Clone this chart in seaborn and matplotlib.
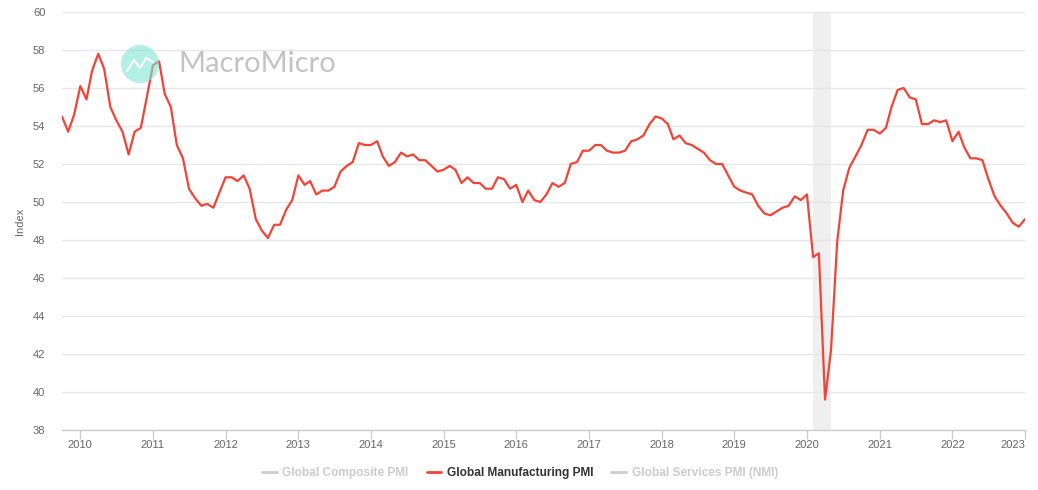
import matplotlib
matplotlib.use('Agg')
import matplotlib.pyplot as plt
import pandas as pd
import seaborn as sns
from matplotlib.lines import Line2D
from matplotlib.patches import Ellipse

# ---------------- data ----------------
start_month = '2009-10-01'
pmi_2009 = [54.5, 53.7, 54.6]
pmi_2010 = [56.1, 55.4, 56.9, 57.8, 57.0, 55.0, 54.3, 53.7, 52.5, 53.7, 53.9, 55.5]
pmi_2011 = [57.2, 57.4, 55.7, 55.0, 53.0, 52.3, 50.7, 50.2, 49.8, 49.9, 49.7, 50.5]
pmi_2012 = [51.3, 51.3, 51.1, 51.4, 50.7, 49.1, 48.5, 48.1, 48.8, 48.8, 49.6, 50.1]
pmi_2013 = [51.4, 50.9, 51.1, 50.4, 50.6, 50.6, 50.8, 51.6, 51.9, 52.1, 53.1, 53.0]
pmi_2014 = [53.0, 53.2, 52.4, 51.9, 52.1, 52.6, 52.4, 52.5, 52.2, 52.2, 51.9, 51.6]
pmi_2015 = [51.7, 51.9, 51.7, 51.0, 51.3, 51.0, 51.0, 50.7, 50.7, 51.3, 51.2, 50.7]
pmi_2016 = [50.9, 50.0, 50.6, 50.1, 50.0, 50.4, 51.0, 50.8, 51.0, 52.0, 52.1, 52.7]
pmi_2017 = [52.7, 53.0, 53.0, 52.7, 52.6, 52.6, 52.7, 53.2, 53.3, 53.5, 54.1, 54.5]
pmi_2018 = [54.4, 54.1, 53.3, 53.5, 53.1, 53.0, 52.8, 52.6, 52.2, 52.0, 52.0, 51.4]
pmi_2019 = [50.8, 50.6, 50.5, 50.4, 49.8, 49.4, 49.3, 49.5, 49.7, 49.8, 50.3, 50.1]
pmi_2020 = [50.4, 47.1, 47.3, 39.6, 42.2, 47.9, 50.6, 51.8, 52.4, 53.0, 53.8, 53.8]
pmi_2021 = [53.6, 53.9, 55.0, 55.9, 56.0, 55.5, 55.4, 54.1, 54.1, 54.3, 54.2, 54.3]
pmi_2022 = [53.2, 53.7, 52.9, 52.3, 52.3, 52.2, 51.2, 50.3, 49.8, 49.4, 48.9, 48.7]
pmi_2023 = [49.1]

year_ticks = list(range(2010, 2024))
y_ticks = list(range(38, 61, 2))
band_start, band_end = '2020-02-01', '2020-04-30'
series_names = ['Global Composite PMI', 'Global Manufacturing PMI', 'Global Services PMI (NMI)']
series_visible = [False, True, False]

pmi_values = (pmi_2009 + pmi_2010 + pmi_2011 + pmi_2012 + pmi_2013 + pmi_2014 + pmi_2015
              + pmi_2016 + pmi_2017 + pmi_2018 + pmi_2019 + pmi_2020 + pmi_2021
              + pmi_2022 + pmi_2023)
dates = pd.date_range(start_month, periods=len(pmi_values), freq='MS')
df = pd.DataFrame({'date': dates, 'pmi': pmi_values})

# ---------------- style ----------------
sns.set_theme(style='white')
plt.rcParams['font.family'] = ['Liberation Sans', 'DejaVu Sans']

W, H = 1038, 490
fig = plt.figure(figsize=(W / 100, H / 100), dpi=100)
L, R, T, B = 62, 1025, 12, 430
ax = fig.add_axes([L / W, 1 - B / H, (R - L) / W, (B - T) / H])

ax.axvspan(pd.Timestamp(band_start), pd.Timestamp(band_end), color='#efefef', lw=0, zorder=0)
sns.lineplot(data=df, x='date', y='pmi', ax=ax, color='#f44336', lw=1.6, zorder=3)

ax.set_ylim(38, 60)
ax.set_yticks(y_ticks)
ax.set_xlim(dates[0], dates[-1])
xt = [pd.Timestamp(f'{y}-01-01') for y in year_ticks]
ax.set_xticks(xt)
ax.set_xticklabels([str(y) for y in year_ticks])
ax.grid(axis='y', color='#e6e6e6', lw=1, zorder=1)
ax.grid(axis='x', visible=False)
ax.set_axisbelow(True)
for s in ['top', 'right', 'left']:
    ax.spines[s].set_visible(False)
ax.spines['bottom'].set_color('#cccccc')
ax.spines['bottom'].set_linewidth(1)
ax.tick_params(axis='x', direction='out', length=6.5, width=1, color='#cccccc',
               labelcolor='#666666', labelsize=8, pad=1, bottom=True)
ax.tick_params(axis='y', length=0, labelcolor='#666666', labelsize=8, pad=12)
ax.get_xticklabels()[-1].set_horizontalalignment('right')
ax.set_xlabel('')
ax.set_ylabel('')
fig.text(20 / W, 1 - 221 / H, 'Index', rotation=90, ha='center', va='center',
         fontsize=8, color='#666666')

# legend
handles = [Line2D([0], [0], color=('#f44336' if v else '#cccccc'), lw=2) for v in series_visible]
leg = fig.legend(handles, series_names, loc='center', bbox_to_anchor=(520 / W, 1 - 473 / H),
                 ncol=3, frameon=False, handlelength=1.25, handletextpad=0.45,
                 columnspacing=1.5, prop={'size': 8.6, 'weight': 'bold'})
for txt, v in zip(leg.get_texts(), series_visible):
    txt.set_color('#333333' if v else '#cccccc')

# watermark
fig.add_artist(Ellipse((140 / W, 1 - 64 / H), 38 / W, 38 / H, transform=fig.transFigure,
                       color='#7fe6d6', alpha=0.6, lw=0, zorder=10))
fig.add_artist(Line2D([127 / W, 134 / W, 140 / W, 146 / W, 153 / W],
                      [1 - 71 / H, 1 - 60 / H, 1 - 68 / H, 1 - 58 / H, 1 - 62 / H],
                      transform=fig.transFigure, color='white', lw=1.5, zorder=11))
fig.text(178 / W, 1 - 64 / H, 'MacroMicro', fontsize=21, color='#bdbdbd', alpha=0.9,
         ha='left', va='center', family=['Lato', 'DejaVu Sans'], zorder=10)

fig.savefig('out.png', dpi=100)
